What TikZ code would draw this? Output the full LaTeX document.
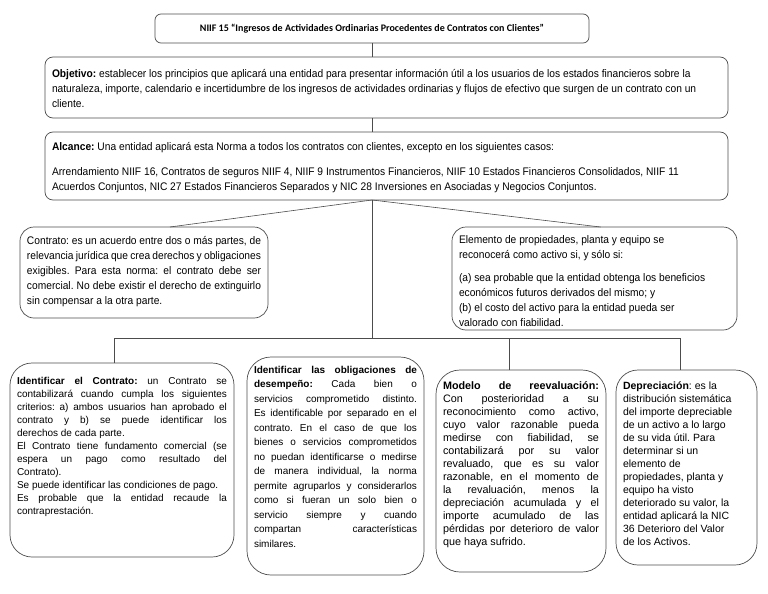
\documentclass[tikz,border=0pt]{standalone}
\usepackage{fontspec}
\setmainfont{Liberation Sans}
\newfontfamily\narrowsans[FakeStretch=0.93]{Liberation Sans}
\newfontfamily\titlesans{Carlito}
\usetikzlibrary{positioning}
\frenchspacing
\hbadness=10000 \vbadness=10000 \tolerance=10000
\hyphenpenalty=10000 \exhyphenpenalty=10000 \hfuzz=30pt \vfuzz=30pt
% text block: width, height, top gap, content
\newcommand{\boxtext}[4]{\parbox[t][#2][t]{#1}{\vspace*{#3}#4}}

\begin{document}
\begin{tikzpicture}
    [x=1pt,y=-1pt,
     panel/.style={draw=black!70,line width=0.7pt,rounded corners=#1,anchor=north west,
                   inner xsep=7pt,inner ysep=0pt,outer sep=0pt},
     panel/.default=8pt,
     top/.style={font=\narrowsans\fontsize{11}{15}\selectfont},
     low/.style={font=\fontsize{10}{13}\selectfont},
     link/.style={draw=black!70,line width=0.6pt}]
    \useasboundingbox (0,0) rectangle (768,594);
    \node[panel=6pt,anchor=center,minimum width=434pt,minimum height=29pt,
          font=\titlesans\bfseries\fontsize{10}{12}\selectfont] (title) at (372,28.5)
          {NIIF 15 “Ingresos de Actividades Ordinarias Procedentes de Contratos con Clientes”};
    \node[panel,top] (obj) at (45,57) {\boxtext{669pt}{61pt}{12pt}{\raggedright
          \textbf{Objetivo:} establecer los principios que aplicará una entidad para presentar información útil a los usuarios de los estados financieros sobre la\\
          naturaleza, importe, calendario e incertidumbre de los ingresos de actividades ordinarias y flujos de efectivo que surgen de un contrato con un\\
          cliente.}};
    \node[panel,top] (alc) at (45,132) {\boxtext{669pt}{68pt}{10pt}{\raggedright
          \textbf{Alcance:} Una entidad aplicará esta Norma a todos los contratos con clientes, excepto en los siguientes casos:\\[10pt]
          Arrendamiento NIIF 16, Contratos de seguros NIIF 4, NIIF 9 Instrumentos Financieros, NIIF 10 Estados Financieros Consolidados, NIIF 11\\
          Acuerdos Conjuntos, NIC 27 Estados Financieros Separados y NIC 28 Inversiones en Asociadas y Negocios Conjuntos.}};
    \node[panel=14pt,top] (contrato) at (20,227) {\boxtext{234pt}{91pt}{9pt}{%
          Contrato: es un acuerdo entre dos o más partes, de\linebreak
          relevancia jurídica que crea derechos y obligaciones\linebreak
          exigibles. Para esta norma: el contrato debe ser\linebreak
          comercial. No debe existir el derecho de extinguirlo\linebreak
          sin compensar a la otra parte.}};
    \node[panel=14pt,top] (elem) at (452,227) {\boxtext{271pt}{103pt}{9pt}{\raggedright
          Elemento de propiedades, planta y equipo se\\
          reconocerá como activo si, y sólo si:\\[8pt]
          (a) sea probable que la entidad obtenga los beneficios\\
          económicos futuros derivados del mismo; y\\
          (b) el costo del activo para la entidad pueda ser\\
          valorado con fiabilidad.}};

    \node[panel=22pt,low] (ident) at (10,363) {\boxtext{210pt}{194pt}{14pt}{%
          \textbf{Identificar el Contrato:} un Contrato se\linebreak
          contabilizará cuando cumpla los siguientes\linebreak
          criterios: a) ambos usuarios han aprobado el\linebreak
          contrato y b) se puede identificar los\linebreak
          derechos de cada parte.\newline
          El Contrato tiene fundamento comercial (se\linebreak
          espera un pago como resultado del\linebreak
          Contrato).\newline
          Se puede identificar las condiciones de pago.\newline
          Es probable que la entidad recaude la\linebreak
          contraprestación.}};
    \node[panel=24pt,low,font=\fontsize{10}{14.5}\selectfont] (oblig) at (247,357) {\boxtext{163pt}{218pt}{9pt}{%
          \textbf{Identificar las obligaciones de\linebreak
          desempeño:} Cada bien o\linebreak
          servicios comprometido distinto.\linebreak
          Es identificable por separado en el\linebreak
          contrato. En el caso de que los\linebreak
          bienes o servicios comprometidos\linebreak
          no puedan identificarse o medirse\linebreak
          de manera individual, la norma\linebreak
          permite agruparlos y considerarlos\linebreak
          como si fueran un solo bien o\linebreak
          servicio siempre y cuando\linebreak
          compartan características\linebreak
          similares.}};
    \node[panel=24pt,low,font=\fontsize{10.8}{13}\selectfont] (modelo) at (436,370) {\boxtext{156pt}{202pt}{12pt}{%
          \textbf{Modelo de reevaluación:}\linebreak
          Con posterioridad a su\linebreak
          reconocimiento como activo,\linebreak
          cuyo valor razonable pueda\linebreak
          medirse con fiabilidad, se\linebreak
          contabilizará por su valor\linebreak
          revaluado, que es su valor\linebreak
          razonable, en el momento de\linebreak
          la revaluación, menos la\linebreak
          depreciación acumulada y el\linebreak
          importe acumulado de las\linebreak
          pérdidas por deterioro de valor\linebreak
          que haya sufrido.}};
    \node[panel=22pt,low,font=\fontsize{10.5}{13}\selectfont] (depr) at (616,370) {\boxtext{127pt}{195pt}{12pt}{\raggedright
          \textbf{Depreciación}: es la\\
          distribución sistemática\\
          del importe depreciable\\
          de un activo a lo largo\\
          de su vida útil. Para\\
          determinar si un\\
          elemento de\\
          propiedades, planta y\\
          equipo ha visto\\
          deteriorado su valor, la\\
          entidad aplicará la NIC\\
          36 Deterioro del Valor\\
          de los Activos.}};

    % connectors
    \coordinate (fork) at (alc.south -| title.south);
    \path (fork) ++(0,138) coordinate (hub);
    \coordinate (d1) at ([xshift=-8pt]ident.north);
    \coordinate (d2) at ([xshift=-12pt]modelo.north);
    \coordinate (d3) at ([xshift=-6pt]depr.north);
    \draw[link] (title.south) -- (title.south |- obj.north);
    \draw[link] (obj.south -| title.south) -- (alc.north -| title.south);
    \draw[link] (fork) -- ([xshift=26pt]contrato.north);
    \draw[link] (fork) -- ([xshift=6pt]elem.north);
    \draw[link] (fork) -- (hub);
    \draw[link] (d1) |- (d3 |- hub) -- (d3);
    \draw[link] (d2) -- (d2 |- hub);
\end{tikzpicture}
\end{document}
